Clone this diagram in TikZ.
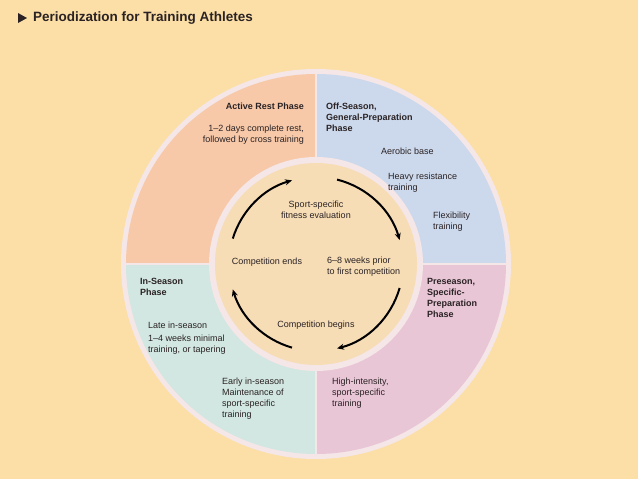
\documentclass[tikz,border=0pt]{standalone}
\usepackage{fontspec}
\setmainfont{Liberation Sans}
\usetikzlibrary{arrows.meta}
\definecolor{bg}{HTML}{FCDFA6}
\definecolor{peach}{HTML}{F7C9A9}
\definecolor{bluez}{HTML}{CCD9EC}
\definecolor{pinkz}{HTML}{E9C6D6}
\definecolor{tealz}{HTML}{D2E7E1}
\definecolor{ringc}{HTML}{F5E6E8}
\definecolor{innerc}{HTML}{F6DDB6}
\definecolor{txt}{HTML}{2A2224}
\tikzset{
  lab/.style={font=\fontsize{9}{11}\selectfont, text=txt, inner sep=0pt, align=left},
  hd/.style={lab, font=\fontsize{9}{11}\selectfont\bfseries},
  cyc/.style={line width=2pt, -{Stealth[length=7pt,width=6pt]}},
}
\begin{document}
\begin{tikzpicture}[x=1pt,y=-1pt]
\useasboundingbox (0,0) rectangle (638,479);
\fill[bg] (0,0) rectangle (638,479);
\fill[txt] (18,13) -- (27,18) -- (18,23) -- cycle;
\node[lab, font=\fontsize{13.5}{15}\selectfont\bfseries, anchor=west] (title) at (33,18) {Periodization for Training Athletes};
\coordinate (c) at (316,264);
\fill[ringc] (c) circle (195);
\begin{scope}
\clip (c) circle (190);
\fill[peach] (c) rectangle (100,60);
\fill[bluez] (c) rectangle (530,60);
\fill[pinkz] (c) rectangle (530,470);
\fill[tealz] (c) rectangle (100,470);
\draw[ringc, line width=1.2pt] (316,60) -- (316,470) (100,264) -- (530,264);
\end{scope}
\fill[ringc] (c) circle (107);
\fill[innerc] (c) circle (101);
% cycle arrows
\draw[cyc] (c) ++(-163:87) arc[start angle=-163, end angle=-106, radius=87];
\draw[cyc] (c) ++(-76:87) arc[start angle=-76, end angle=-16, radius=87];
\draw[cyc] (c) ++(16:87) arc[start angle=16, end angle=76, radius=87];
\draw[cyc] (c) ++(106:87) arc[start angle=106, end angle=163, radius=87];
% inner labels
\node[lab, align=center] (sse) at (316,210) {Sport-specific\\fitness evaluation};
\node[lab] (ce) at (267,262) {Competition ends};
\node[lab, anchor=west] (pr) at (327,267) {6–8 weeks prior\\to first competition};
\node[lab] (cb) at (316,325) {Competition begins};
% quadrant texts
\node[hd, anchor=north east, align=right] (ar) at (304,103) {Active Rest Phase};
\node[lab, anchor=north east, align=right] (ard) at (304,125) {1–2 days complete rest,\\followed by cross training};
\node[hd, anchor=north west] (os) at (326,103) {Off-Season,\\General-Preparation\\Phase};
\node[lab, anchor=north west] (ab) at (381,148) {Aerobic base};
\node[lab, anchor=north west] (hr) at (388,173) {Heavy resistance\\training};
\node[lab, anchor=north west] (fl) at (433,212) {Flexibility\\training};
\node[hd, anchor=north west] (ps) at (427,278) {Preseason,\\Specific-\\Preparation\\Phase};
\node[lab, anchor=north west] (hi) at (332,378) {High-intensity,\\sport-specific\\training};
\node[hd, anchor=north west] (is) at (140,278) {In-Season\\Phase};
\node[lab, anchor=north west] (li) at (148,322) {Late in-season};
\node[lab, anchor=north west] (lw) at (148,335) {1–4 weeks minimal\\training, or tapering};
\node[lab, anchor=north west] (ei) at (222,378) {Early in-season\\Maintenance of\\sport-specific\\training};
\end{tikzpicture}
\end{document}
